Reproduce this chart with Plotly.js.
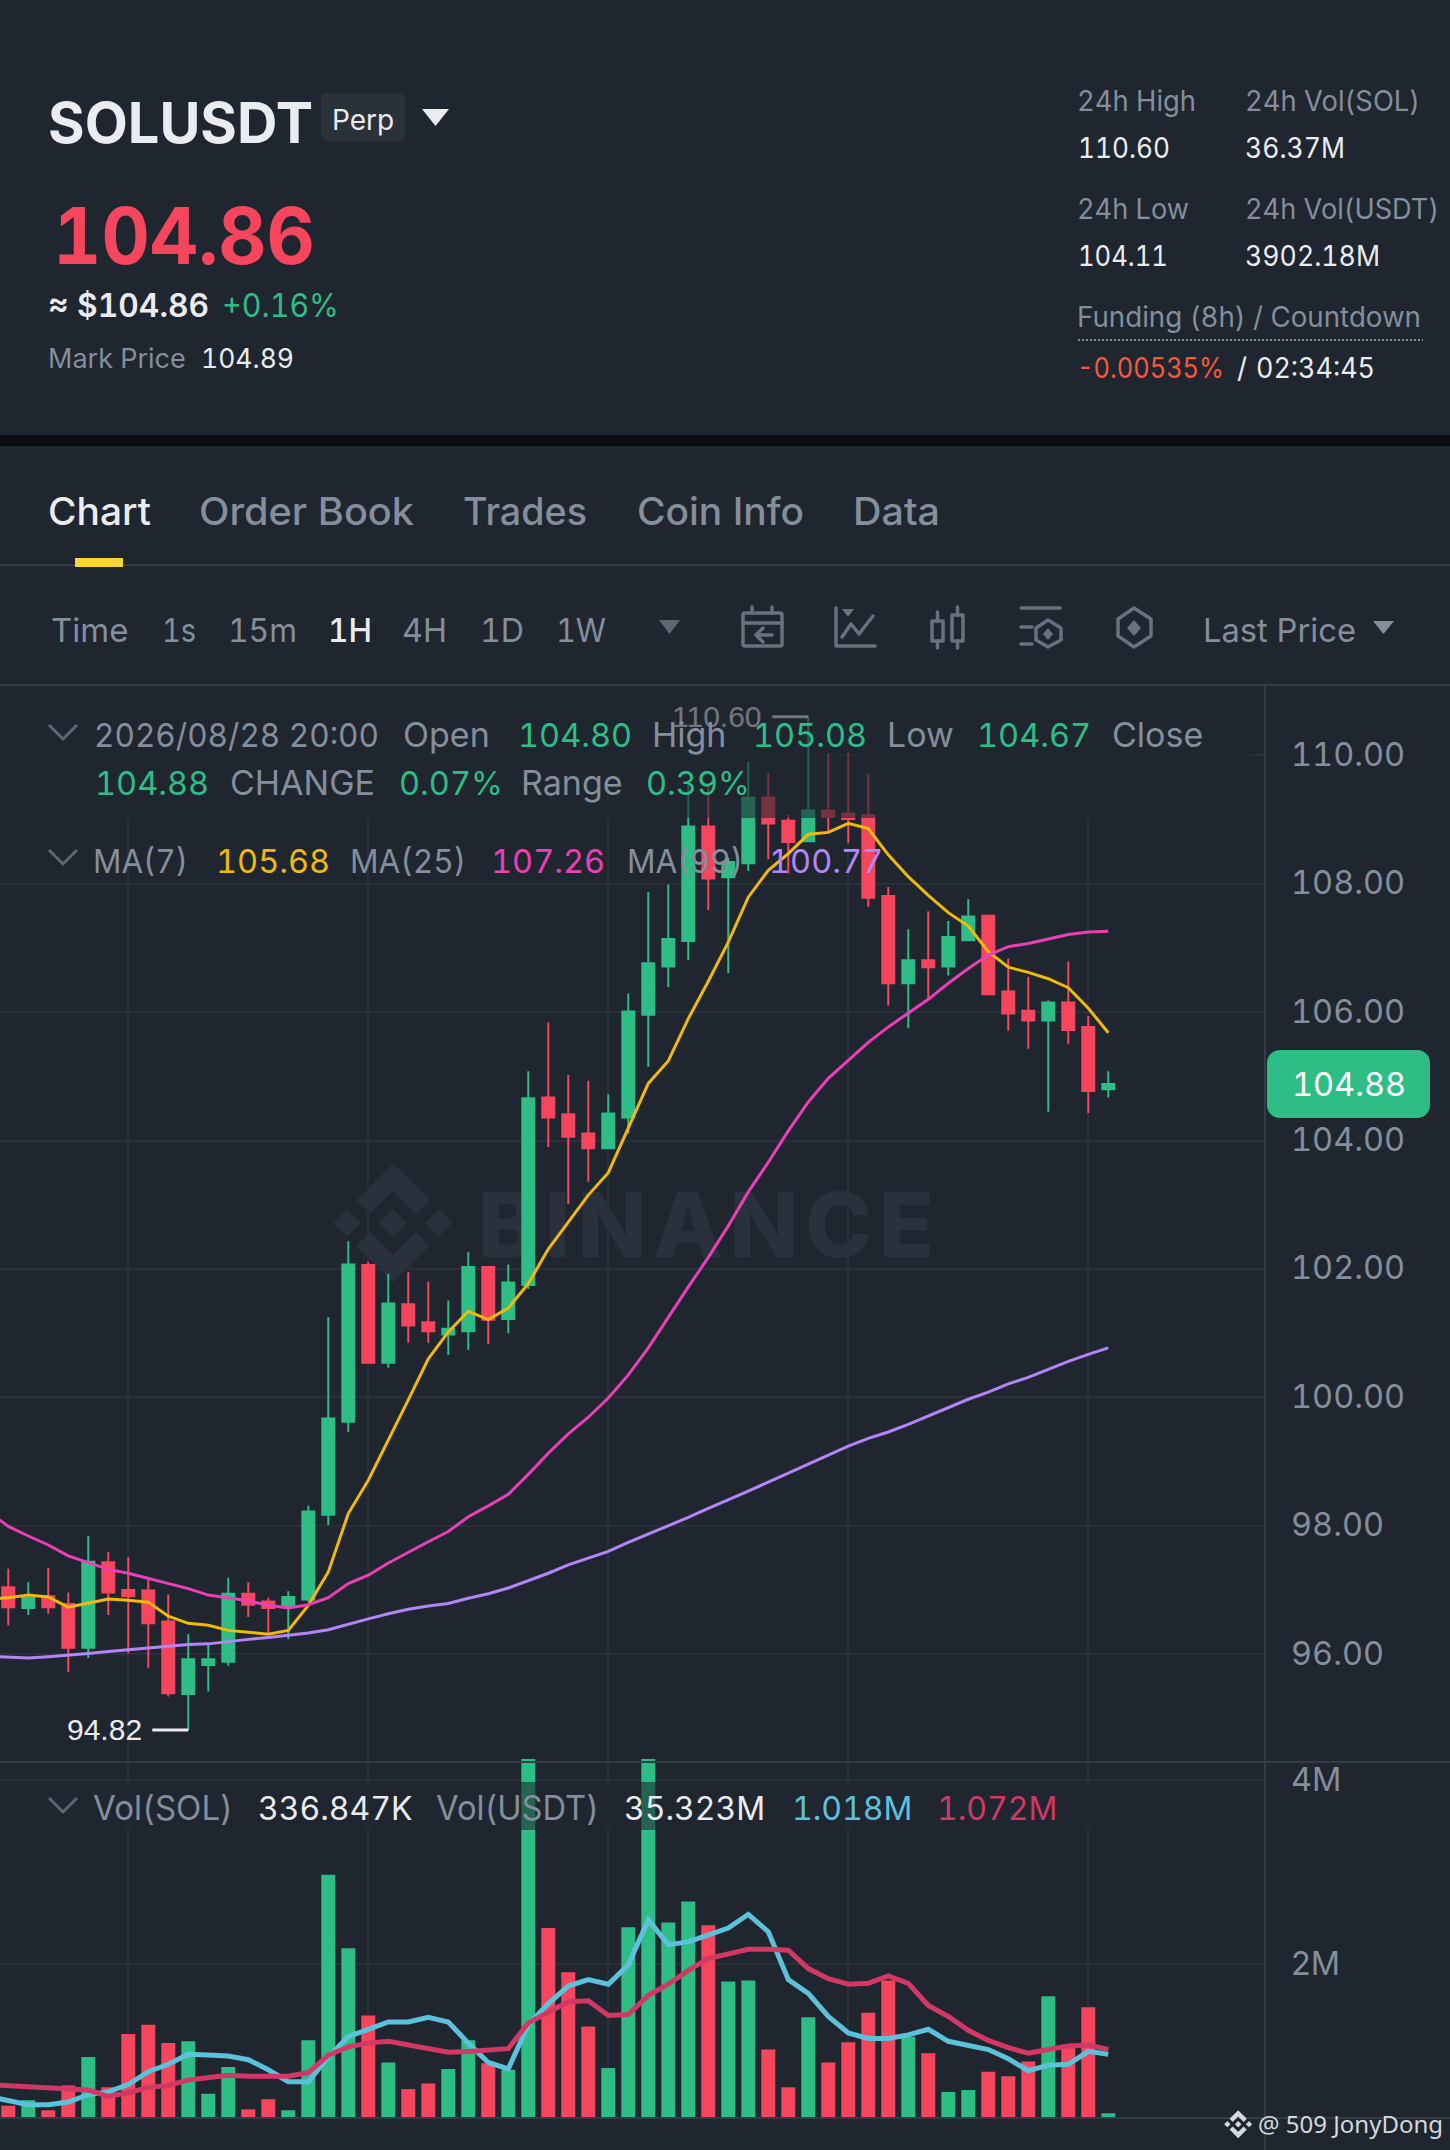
<!DOCTYPE html>
<html>
<head>
<meta charset="utf-8">
<script src="https://cdn.plot.ly/plotly-3.0.1.min.js"></script>
<style>
html,body{margin:0;padding:0;background:#1f2630;width:1450px;height:2150px;overflow:hidden}
#wm,#top{position:absolute;left:0;top:0;width:1450px;height:2150px}
#wm{z-index:1}
#plot{position:absolute;left:0;top:0;width:1450px;height:2150px;z-index:2}
#top{z-index:3;pointer-events:none}
text{font-family:Inter,sans-serif}
#top text,.ytick text{font-feature-settings:"tnum" 1 !important}
</style>
</head>
<body>
<svg id="wm" viewBox="0 0 1450 2150" xmlns="http://www.w3.org/2000/svg">
  <g transform="translate(333,1163) scale(0.952)" fill="#2b313c"><path d="M38.73 53.2 63 28.93l24.27 24.27 14.12-14.12L63 .69 24.61 39.08zM.69 63l14.12-14.12L28.93 63 14.81 77.12zM38.73 72.8 63 97.07 87.27 72.8l14.13 14.11-.01.01L63 125.31 24.61 86.92l-.02-.02zM97.07 63l14.12-14.12L125.31 63l-14.12 14.12zM77.32 62.99 63 48.67 52.41 59.26l-1.22 1.21-2.51 2.51 14.32 14.33 14.32-14.32z"/></g>
  <text x="478" y="1257" font-size="90" font-weight="800" fill="#2b313c" textLength="456" lengthAdjust="spacing">BINANCE</text>
</svg>
<div id="plot"></div>
<svg id="top" viewBox="0 0 1450 2150" xmlns="http://www.w3.org/2000/svg"></svg>
<script>
// ---------- chart data ----------
const opens  = [97.04,96.72,96.90,96.78,96.10,97.43,97.00,96.99,96.51,95.38,95.83,95.88,96.94,96.82,96.74,96.85,98.17,99.62,102.06,100.54,101.45,101.17,100.98,101.03,102.03,101.22,101.75,104.67,104.41,104.11,103.88,104.36,105.96,106.71,107.11,108.89,108.10,108.32,109.34,108.98,108.66,109.14,109.09,109.07,107.81,106.45,106.81,106.71,107.12,107.50,106.32,106.02,105.87,106.15,105.77,104.80];
const closes = [96.73,96.88,96.73,96.10,97.44,96.96,96.90,96.48,95.39,95.92,95.92,96.94,96.77,96.72,96.89,98.22,99.67,102.07,100.54,101.46,101.12,101.03,101.07,102.03,101.21,101.79,104.66,104.36,104.06,103.88,104.42,106.01,106.76,107.14,108.89,108.08,108.34,109.34,108.94,108.65,109.14,109.04,109.01,107.78,106.45,106.81,106.70,107.17,107.49,106.28,105.98,105.87,106.15,105.72,104.77,104.88];
const highs  = [97.33,97.12,97.34,96.96,97.84,97.59,97.51,97.18,96.93,96.31,96.15,97.19,97.12,96.88,96.98,98.31,101.25,102.43,102.11,101.92,101.95,101.80,101.51,102.26,102.04,102.07,105.08,105.84,105.02,104.93,104.72,106.29,107.87,107.99,109.54,109.56,108.40,109.90,109.72,109.08,110.60,110.03,110.04,109.71,107.95,107.29,107.57,107.42,107.76,107.50,106.83,106.55,106.18,106.79,105.94,105.08];
const lows   = [96.45,96.61,96.63,95.72,95.94,96.61,96.01,95.78,95.34,94.82,95.42,95.82,96.58,96.30,96.23,96.82,98.01,99.46,100.54,100.46,100.85,100.85,100.66,100.74,100.83,101.00,101.69,103.90,103.01,103.36,103.88,104.11,105.15,106.39,106.81,107.59,106.61,108.20,108.38,108.16,108.66,108.81,108.63,107.64,106.10,105.75,106.21,106.57,107.11,106.26,105.71,105.43,104.45,105.50,104.43,104.67];
// moving averages start one candle before the first visible candle
const ma7  = [96.86,96.88,96.92,96.89,96.73,96.80,96.86,96.84,96.81,96.59,96.48,96.45,96.37,96.34,96.31,96.37,96.76,97.28,98.19,98.71,99.33,99.96,100.60,101.02,101.34,101.21,101.39,101.77,102.31,102.73,103.15,103.50,104.19,104.89,105.24,105.90,106.48,107.09,107.79,108.21,108.47,108.77,108.80,108.94,108.86,108.45,108.11,107.82,107.55,107.34,106.94,106.70,106.62,106.52,106.38,106.06,105.68];
const ma25 = [98.22,97.99,97.84,97.70,97.53,97.43,97.32,97.26,97.18,97.11,97.02,96.92,96.88,96.83,96.76,96.72,96.77,96.88,97.10,97.23,97.42,97.59,97.75,97.91,98.14,98.31,98.49,98.80,99.13,99.43,99.69,99.99,100.35,100.77,101.25,101.72,102.18,102.67,103.20,103.66,104.15,104.60,104.97,105.25,105.53,105.77,105.98,106.20,106.45,106.68,106.89,107.02,107.07,107.14,107.21,107.25,107.26];
const ma99 = [95.97,95.96,95.94,95.96,95.98,96.01,96.04,96.07,96.10,96.12,96.15,96.16,96.20,96.23,96.26,96.29,96.33,96.38,96.47,96.55,96.63,96.70,96.75,96.79,96.87,96.94,97.03,97.14,97.26,97.39,97.50,97.60,97.74,97.87,97.99,98.13,98.27,98.40,98.54,98.68,98.82,98.96,99.10,99.24,99.36,99.46,99.58,99.71,99.83,99.97,100.08,100.21,100.31,100.44,100.56,100.67,100.77];
const volumes = [0.46,0.52,0.41,0.68,0.99,0.66,1.24,1.34,1.14,1.16,0.59,0.88,0.42,0.53,0.41,1.17,2.97,2.17,1.44,0.93,0.64,0.70,0.86,1.17,0.92,0.85,4.60,2.39,1.91,1.32,0.87,2.40,4.50,2.45,2.68,2.42,1.81,1.82,1.07,0.66,1.42,0.93,1.15,1.47,1.82,1.21,1.03,0.61,0.63,0.83,0.78,0.94,1.65,1.10,1.53,0.377];
const volMaBlue = [0.56,0.51,0.47,0.47,0.50,0.58,0.61,0.69,0.83,0.91,1.02,1.01,1.00,0.96,0.85,0.72,0.72,0.99,1.21,1.29,1.37,1.37,1.42,1.37,1.14,0.93,0.86,1.34,1.57,1.76,1.83,1.78,1.99,2.48,2.21,2.24,2.32,2.39,2.54,2.35,1.83,1.68,1.43,1.25,1.19,1.19,1.23,1.29,1.16,1.12,1.07,0.97,0.84,0.90,0.91,1.05,1.018];
const volMaRed  = [0.69,0.68,0.67,0.65,0.64,0.63,0.56,0.60,0.66,0.68,0.74,0.76,0.79,0.78,0.78,0.78,0.82,1.01,1.10,1.14,1.16,1.12,1.07,1.04,1.05,1.07,1.08,1.36,1.48,1.59,1.60,1.44,1.45,1.66,1.78,1.93,2.06,2.11,2.16,2.16,2.15,1.95,1.84,1.78,1.79,1.87,1.79,1.55,1.43,1.28,1.17,1.09,1.03,1.07,1.11,1.12,1.072];
const priceTicks = [96,98,100,102,104,106,108,110];
const volTicks = [2,4];
const volTickLabels = ['2M','4M'];
const timeTicks = [6,18,30,42,54];
const hiMark = {i:40, v:110.60, label:'110.60'};
const loMark = {i:9,  v:94.82,  label:'94.82'};

// ---------- palette ----------
const GREEN='#2EBD85', RED='#F6465D', GRID='#2a303a', GRAY='#848E9C', WHITE='#EAECEF';

const candleX = opens.map((_,i)=>i);
const maX = ma7.map((_,i)=>i-1);

const traces = [
  {type:'bar',x:candleX,y:volumes,xaxis:'x',yaxis:'y2',width:0.7,hoverinfo:'skip',
   marker:{color:opens.map((o,i)=>closes[i]>=o?GREEN:RED),line:{width:0}}},
  {type:'scatter',mode:'lines',x:maX,y:volMaBlue,xaxis:'x',yaxis:'y2',hoverinfo:'skip',line:{color:'#5CC2DC',width:5}},
  {type:'scatter',mode:'lines',x:maX,y:volMaRed,xaxis:'x',yaxis:'y2',hoverinfo:'skip',line:{color:'#D33864',width:5}},
  {type:'candlestick',x:candleX,open:opens,high:highs,low:lows,close:closes,xaxis:'x',yaxis:'y',hoverinfo:'skip',whiskerwidth:0,
   increasing:{line:{color:GREEN,width:2},fillcolor:GREEN},
   decreasing:{line:{color:RED,width:2},fillcolor:RED}},
  {type:'scatter',mode:'lines',x:maX,y:ma7,xaxis:'x',yaxis:'y',hoverinfo:'skip',line:{color:'#F0B90B',width:3}},
  {type:'scatter',mode:'lines',x:maX,y:ma25,xaxis:'x',yaxis:'y',hoverinfo:'skip',line:{color:'#EB40B5',width:3}},
  {type:'scatter',mode:'lines',x:maX,y:ma99,xaxis:'x',yaxis:'y',hoverinfo:'skip',line:{color:'#B385F8',width:3}}
];

const tickFont = {family:'Inter, sans-serif',size:32.5,color:GRAY};
const layout = {
  width:1450,height:2150,autosize:false,showlegend:false,
  paper_bgcolor:'rgba(0,0,0,0)',plot_bgcolor:'rgba(0,0,0,0)',
  margin:{l:0,r:185,t:686,b:33,pad:0},
  boxgap:0.4,boxgroupgap:0,bargap:0.3,
  xaxis:{range:[-0.415,62.835],anchor:'y2',tickvals:timeTicks,showticklabels:false,ticks:'',
         showgrid:true,gridcolor:GRID,gridwidth:2,zeroline:false,showline:false,fixedrange:true,rangeslider:{visible:false}},
  yaxis:{domain:[0.24808,1],range:[94.32,111.08],side:'right',anchor:'x',tickvals:priceTicks,tickformat:'.2f',
         tickfont:tickFont,ticks:'',ticklabelstandoff:25,showgrid:true,gridcolor:GRID,gridwidth:2,zeroline:false,showline:false,fixedrange:true},
  yaxis2:{domain:[0,0.25017],range:[0.337,4.228],side:'right',anchor:'x',tickvals:volTicks,ticktext:volTickLabels,
         tickfont:tickFont,ticks:'',ticklabelstandoff:25,showgrid:true,gridcolor:GRID,gridwidth:2,zeroline:false,showline:false,fixedrange:true},
  shapes:[hiMark,loMark].map(m=>({type:'line',xref:'x',yref:'y',xsizemode:'pixel',xanchor:m.i,x0:-36,x1:0,y0:m.v,y1:m.v,
          line:{color:WHITE,width:3}})),
  annotations:[hiMark,loMark].map(m=>({xref:'x',yref:'y',x:m.i,y:m.v,text:m.label,showarrow:false,xanchor:'right',yanchor:'middle',
          xshift:-44,font:{family:'"Liberation Sans", Arial, sans-serif',size:30,color:WHITE}}))
};
Plotly.newPlot('plot',traces,layout,{displayModeBar:false,staticPlot:true}).then(()=>{
  document.querySelectorAll('#plot .ytick text').forEach(t=>t.setAttribute('y',(+t.getAttribute('y'))-1));
});

// ---------- page furniture: [text, x, baseline, size, colour, weight, width] ----------
const labels = [
 ['SOLUSDT',48,143,56,WHITE,700,265],['104.86',53,264,78,RED,700,262],
 ['≈ $104.86',48,317,32,WHITE,600,161],['+0.16%',222,317,32,GREEN,400,117],
 ['Mark Price',48,368,27,GRAY,400],['104.89',201,368,27,WHITE,400,93],
 ['24h High',1077,111,28,GRAY,400,119],['24h Vol(SOL)',1245,111,28,GRAY,400,175],
 ['110.60',1078,158,28,WHITE,400,92],['36.37M',1245,158,28,WHITE,400,100],
 ['24h Low',1077,219,28,GRAY,400,112],['24h Vol(USDT)',1245,219,28,GRAY,400,194],
 ['104.11',1078,266,28,WHITE,400,90],['3902.18M',1245,266,28,WHITE,400,135],
 ['Funding (8h) / Countdown',1077,327,28,GRAY,400,344],
 ['-0.00535%',1077,378,28,'#F6583B',400,147],['/',1237,378,28,WHITE,400],['02:34:45',1256,378,28,WHITE,400,119],
 ['Chart',48,525,38,WHITE,500,103],['Order Book',199,525,38,GRAY,500,215],['Trades',463,525,38,GRAY,500,124],
 ['Coin Info',637,525,38,GRAY,500,167],['Data',853,525,38,GRAY,500,87],
 ['Time',51,642,33,GRAY,400],['1s',162,642,33,GRAY,400,34],['15m',228,642,33,GRAY,400,69],['1H',328,642,33,WHITE,500,44],
 ['4H',402,642,33,GRAY,400,45],['1D',480,642,33,GRAY,400,44],['1W',556,642,33,GRAY,400,50],['Last Price',1203,642,33,GRAY,400,153],
 ['2026/08/28 20:00',94,747,33,GRAY,400,285],['Open',403,747,34,GRAY,400],['104.80',518,747,32.5,GREEN,400],
 ['High',652,747,34,GRAY,400],['105.08',753,747,32.5,GREEN,400],['Low',887,747,34,GRAY,400],
 ['104.67',977,747,32.5,GREEN,400],['Close',1112,747,34,GRAY,400],
 ['104.88',95,795,32.5,GREEN,400],['CHANGE',230,795,34,GRAY,400],['0.07%',399,795,32.5,GREEN,400],
 ['Range',521,795,34,GRAY,400],['0.39%',646,795,32.5,GREEN,400],
 ['MA(7)',93,873,33,GRAY,400,95],['105.68',216,873,32.5,'#F0B90B',400],['MA(25)',350,873,33,GRAY,400,116],
 ['107.26',491,873,32.5,'#EB40B5',400],['MA(99)',627,873,33,GRAY,400,116],['100.77',769,873,32.5,'#B385F8',400],
 ['Vol(SOL)',93,1820,34,GRAY,400,140],['336.847K',258,1820,32,WHITE,400],['Vol(USDT)',436,1820,34,GRAY,400,163],
 ['35.323M',624,1820,32,WHITE,400],['1.018M',792,1820,32,'#5CC2DC',400],['1.072M',937,1820,32,'#D33864',400]
];
const esc = s=>s.replace(/&/g,'&amp;');
let s = '';
// header band and rules
s += '<rect x="0" y="435" width="1450" height="11" fill="#0b0e11"/>';
s += '<rect x="0" y="564" width="1450" height="2" fill="#333b47"/>';
s += '<rect x="75" y="558" width="48" height="9" fill="#FCD535"/>';
s += '<rect x="0" y="684" width="1450" height="2" fill="#333b47"/>';
s += '<rect x="0" y="1761" width="1450" height="2" fill="#333b47"/>';
s += '<rect x="0" y="2117" width="1450" height="2" fill="#333b47"/>';
s += '<rect x="1264" y="686" width="2" height="1464" fill="#333b47"/>';
// legend panels dim the marks behind them
s += '<rect x="0" y="686" width="1254" height="132" fill="rgba(31,38,48,0.6)"/>';
s += '<rect x="0" y="1782" width="1254" height="48" fill="rgba(31,38,48,0.6)"/>';
// perp badge and carets
s += '<rect x="321" y="93" width="84" height="48" rx="6" fill="#2b3139"/>';
s += '<polygon points="422,109 449,109 435.5,126" fill="'+WHITE+'"/>';
s += '<polygon points="659,620 680,620 669.5,634" fill="#5e6673"/>';
s += '<polygon points="1373,621 1394,621 1383.5,634" fill="#848E9C"/>';
s += '<line x1="1078" y1="340" x2="1423" y2="340" stroke="#848E9C" stroke-width="2" stroke-dasharray="2 2"/>';
// chevrons
[[49,725],[49,850],[49,1798]].forEach(c=>{
  s += `<polyline points="${c[0]},${c[1]} ${c[0]+14},${c[1]+14} ${c[0]+28},${c[1]}" fill="none" stroke="#5e6673" stroke-width="3"/>`;
});
// toolbar icons
const ic='fill="none" stroke="#69717e" stroke-width="3.5" stroke-linejoin="round" stroke-linecap="round"';
s += `<g ${ic}><rect x="743" y="613" width="39" height="33" rx="2"/><path d="M743 623H782M752 607V613M772 607V613M772 635H757M763 628L756 635L763 642"/></g>`;
s += `<g ${ic}><path d="M836 608V646H875M842 637L851 624L859 634L873 616"/></g><polygon points="842,609 854,609 848,617" fill="#69717e"/>`;
s += `<g ${ic}><rect x="932" y="621" width="11" height="20"/><rect x="952" y="615" width="11" height="26"/><path d="M937.5 612V621M937.5 641V648M957.5 607V615M957.5 641V648"/></g>`;
s += `<g ${ic}><path d="M1021 608H1060M1021 627H1032M1021 644H1032M1048 620L1061 628V640L1048 647L1036 640V628Z"/></g><polygon points="1048,628 1053,634 1048,640 1043,634" fill="#69717e"/>`;
s += `<g ${ic}><path d="M1134 608L1151 619V636L1134 647L1118 636V619Z"/></g><polygon points="1134,620 1141,628 1134,636 1127,628" fill="#69717e"/>`;
// texts
labels.forEach(t=>{
  const w = t[6] ? ` textLength="${t[6]}" lengthAdjust="spacingAndGlyphs"` : '';
  s += `<text x="${t[1]}" y="${t[2]}" font-size="${t[3]}" font-weight="${t[5]}" fill="${t[4]}"${w}>${esc(t[0])}</text>`;
});
s += `<text x="363" y="130" text-anchor="middle" font-size="28" fill="${WHITE}">Perp</text>`;
// last price tag
s += `<rect x="1267" y="1050" width="163" height="68" rx="13" fill="${GREEN}"/>`;
s += `<text x="1349" y="1096" text-anchor="middle" font-size="32.5" fill="#ffffff">104.88</text>`;
// credit
s += `<g transform="translate(1224,2110) scale(0.225)" fill="#d5d8dc"><path d="M38.73 53.2 63 28.93l24.27 24.27 14.12-14.12L63 .69 24.61 39.08zM.69 63l14.12-14.12L28.93 63 14.81 77.12zM38.73 72.8 63 97.07 87.27 72.8l14.13 14.11-.01.01L63 125.31 24.61 86.92l-.02-.02zM97.07 63l14.12-14.12L125.31 63l-14.12 14.12zM77.32 62.99 63 48.67 52.41 59.26l-1.22 1.21-2.51 2.51 14.32 14.33 14.32-14.32z"/></g>`;
s += `<text x="1258" y="2133" font-size="24" fill="#d5d8dc" style="font-family:'Noto Sans',sans-serif">@ 509 JonyDong</text>`;
document.getElementById('top').innerHTML = s;
</script>
</body>
</html>
